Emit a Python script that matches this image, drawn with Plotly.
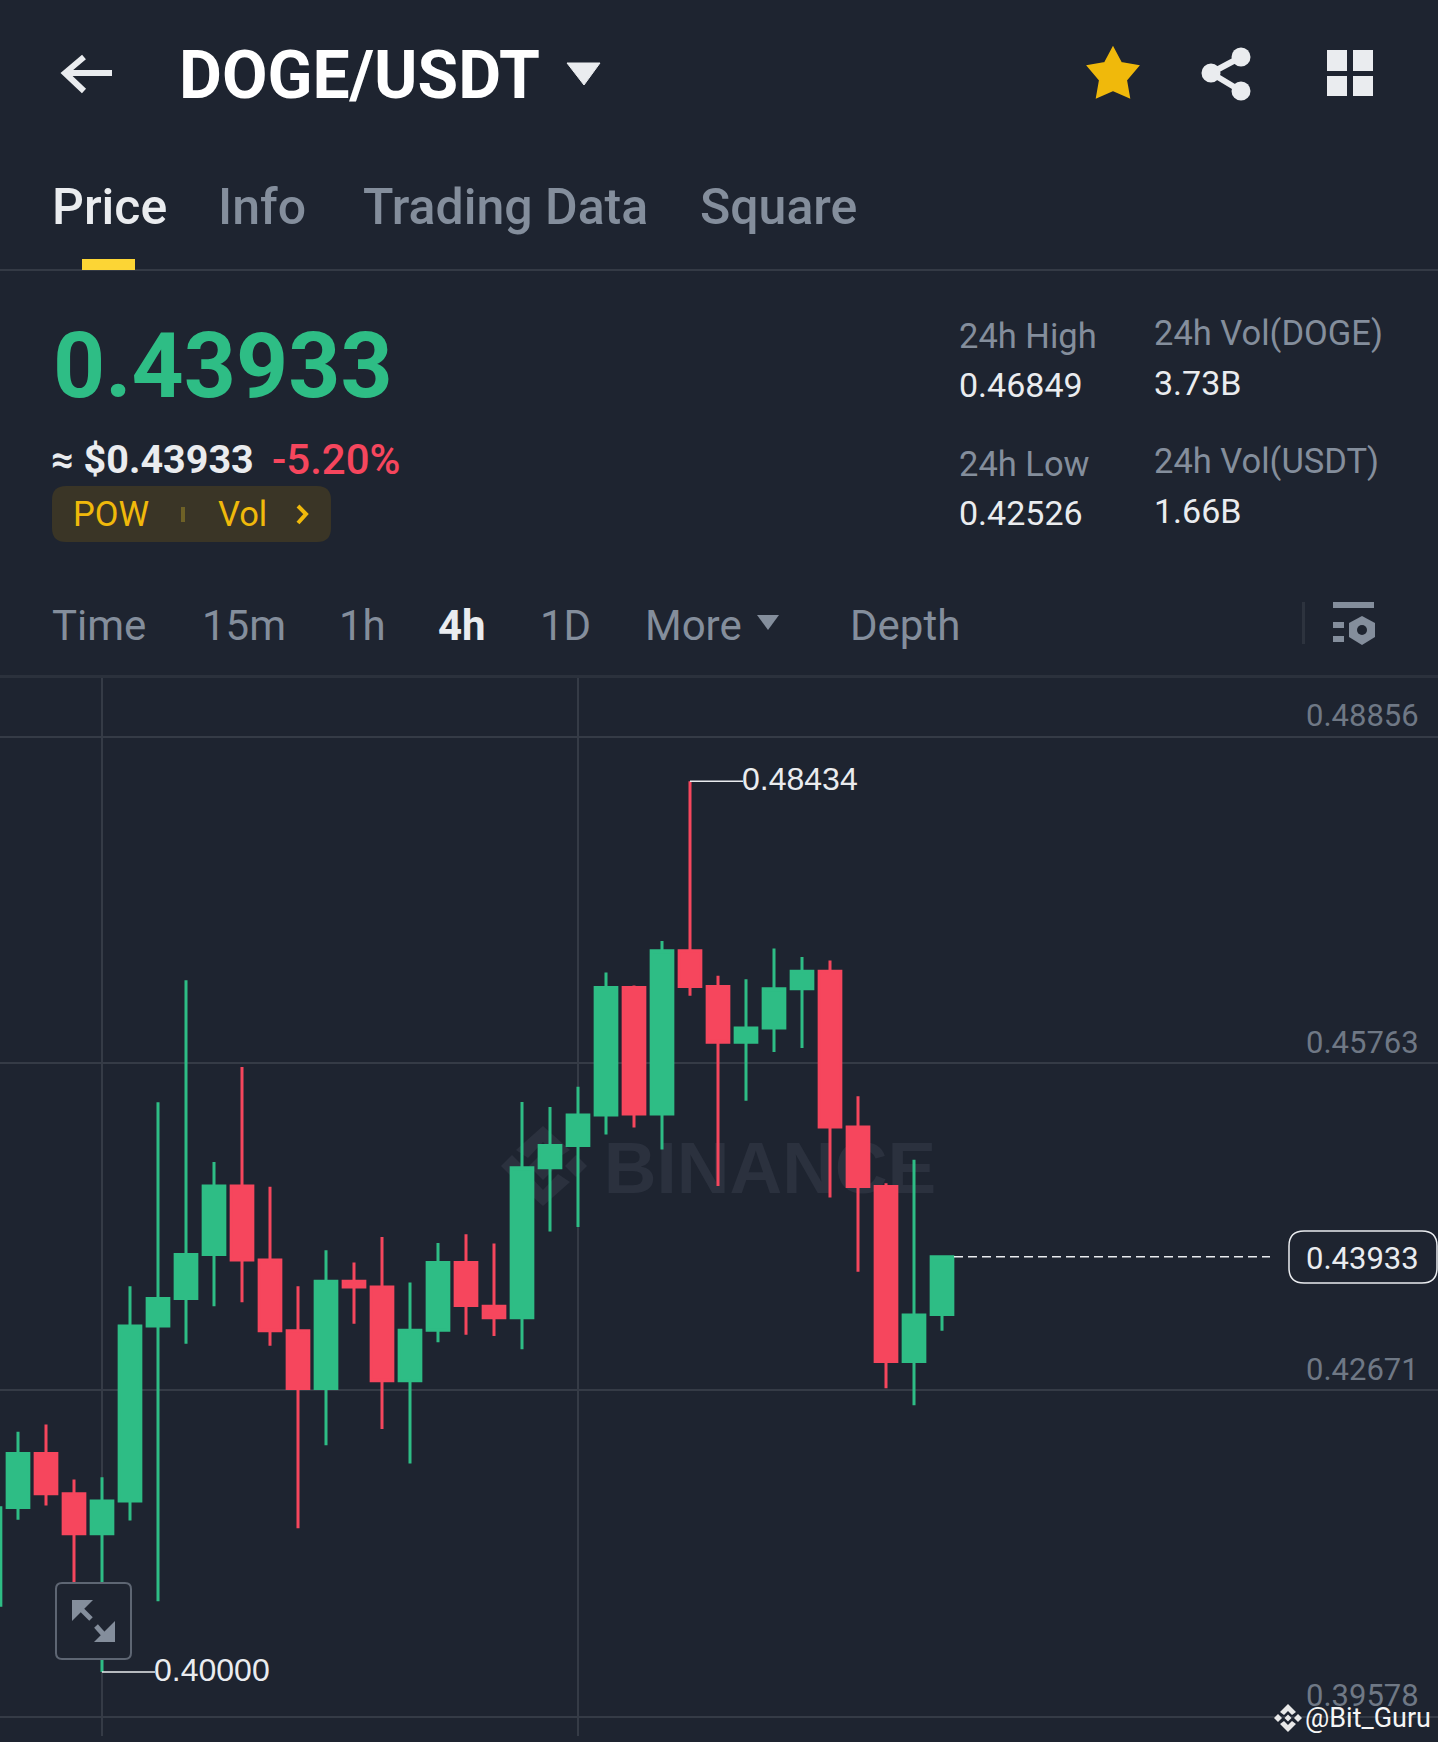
import plotly.graph_objects as go

WIDTH = 1438
HEIGHT = 1742

BG = "#1E2430"
GREEN = "#2EBD85"
RED = "#F6465D"
WHITE = "#EAECEF"
GREY = "#848E9C"
GRID = "#353B46"
YELLOW = "#F0B90B"
MARK = "#2B313E"

# candle data (index 0 is the first full candle on the left)
candle_x = list(range(-1, 34))
opens = [0.40632, 0.41559, 0.42070, 0.41689, 0.41309, 0.41620, 0.43276, 0.43537, 0.43954, 0.44602,
         0.43903, 0.43233, 0.42685, 0.43700, 0.43646, 0.42758, 0.43236, 0.43878, 0.43464, 0.43356,
         0.44776, 0.44987, 0.45275, 0.46483, 0.45283, 0.46830, 0.46492, 0.45964, 0.46099, 0.46471,
         0.46636, 0.45161, 0.44598, 0.42942, 0.43385]
highs = [0.41555, 0.42276, 0.42345, 0.41823, 0.41845, 0.43653, 0.45396, 0.46551, 0.44830, 0.45729,
         0.44595, 0.43653, 0.43993, 0.43878, 0.44120, 0.43689, 0.44062, 0.44146, 0.44059, 0.45397,
         0.45351, 0.45541, 0.46623, 0.46500, 0.46923, 0.48434, 0.46593, 0.46560, 0.46851, 0.46771,
         0.46737, 0.45452, 0.44628, 0.44852, 0.43933]
lows = [0.40632, 0.41443, 0.41577, 0.40704, 0.40000, 0.41436, 0.40671, 0.43109, 0.43464, 0.43501,
        0.43091, 0.41363, 0.42149, 0.43298, 0.42301, 0.41975, 0.43124, 0.43193, 0.43182, 0.43056,
        0.44171, 0.44214, 0.45089, 0.45156, 0.44949, 0.46403, 0.44603, 0.45410, 0.45871, 0.45909,
        0.44493, 0.43791, 0.42688, 0.42527, 0.43233]
closes = [0.41555, 0.42070, 0.41689, 0.41309, 0.41620, 0.43276, 0.43537, 0.43954, 0.44602, 0.43903,
          0.43233, 0.42685, 0.43700, 0.43646, 0.42758, 0.43236, 0.43878, 0.43472, 0.43356, 0.44776,
          0.44987, 0.45275, 0.46483, 0.45283, 0.46830, 0.46492, 0.45964, 0.46099, 0.46471, 0.46636,
          0.45161, 0.44598, 0.42942, 0.43381, 0.43933]

price_ticks = [0.48856, 0.45763, 0.42671, 0.39578]
time_grid = [3, 20]
last_price = 0.43933
high_price = 0.48434
high_index = 24
low_price = 0.40000
low_index = 3

tabs = ["Price", "Info", "Trading Data", "Square"]
intervals = ["Time", "15m", "1h", "4h", "1D", "More", "Depth"]
stat_labels = ["24h High", "24h Low", "24h Vol(DOGE)", "24h Vol(USDT)"]
stat_values = ["0.46849", "0.42526", "3.73B", "1.66B"]

FONT = "Roboto"


# Pixel helpers, the page is laid out as a phone screen
# -------------------------------------------------------------------------------------------------
def fx(x):
    return x / WIDTH


def fy(y):
    return 1 - y / HEIGHT


def price_at(y):
    return 0.42671 + (1390 - y) / 10562


def index_at(x):
    return (x - 18) / 28


def text(x, y, label, size, color, anchor="left", weight=400, family=FONT):
    return dict(x=fx(x), y=fy(y), xref="paper", yref="paper", text=label, showarrow=False,
                xanchor=anchor, yanchor="middle", borderpad=0,
                font=dict(size=size, color=color, family=family, weight=weight))


def poly(points, fill=None, line=None, width=0, close=True, layer="above"):
    path = "M " + " L ".join(f"{fx(x):.5f},{fy(y):.5f}" for x, y in points)
    if close:
        path += " Z"
    return dict(type="path", path=path, xref="paper", yref="paper", layer=layer,
                fillcolor=fill if fill else "rgba(0,0,0,0)",
                line=dict(color=line if line else "rgba(0,0,0,0)", width=width))


def rrect(x0, y0, x1, y1, r, fill=None, line=None, width=0):
    p = (f"M {fx(x0 + r):.5f},{fy(y0):.5f} L {fx(x1 - r):.5f},{fy(y0):.5f} "
         f"Q {fx(x1):.5f},{fy(y0):.5f} {fx(x1):.5f},{fy(y0 + r):.5f} "
         f"L {fx(x1):.5f},{fy(y1 - r):.5f} Q {fx(x1):.5f},{fy(y1):.5f} {fx(x1 - r):.5f},{fy(y1):.5f} "
         f"L {fx(x0 + r):.5f},{fy(y1):.5f} Q {fx(x0):.5f},{fy(y1):.5f} {fx(x0):.5f},{fy(y1 - r):.5f} "
         f"L {fx(x0):.5f},{fy(y0 + r):.5f} Q {fx(x0):.5f},{fy(y0):.5f} {fx(x0 + r):.5f},{fy(y0):.5f} Z")
    return dict(type="path", path=p, xref="paper", yref="paper", layer="above",
                fillcolor=fill if fill else "rgba(0,0,0,0)",
                line=dict(color=line if line else "rgba(0,0,0,0)", width=width))


def rect(x0, y0, x1, y1, fill, layer="above"):
    return dict(type="rect", xref="paper", yref="paper", layer=layer, x0=fx(x0), x1=fx(x1),
                y0=fy(y0), y1=fy(y1), fillcolor=fill, line=dict(width=0))


def circle(cx, cy, r, fill):
    return dict(type="circle", xref="paper", yref="paper", layer="above", x0=fx(cx - r), x1=fx(cx + r),
                y0=fy(cy - r), y1=fy(cy + r), fillcolor=fill, line=dict(width=0))


def diamond(cx, cy, r, fill, layer="above"):
    return poly([(cx, cy - r), (cx + r, cy), (cx, cy + r), (cx - r, cy)], fill=fill, layer=layer)


# Chart
# -------------------------------------------------------------------------------------------------
fig = go.Figure(go.Candlestick(
    x=candle_x, open=opens, high=highs, low=lows, close=closes,
    increasing=dict(line=dict(color=GREEN, width=3), fillcolor=GREEN),
    decreasing=dict(line=dict(color=RED, width=3), fillcolor=RED),
    whiskerwidth=0, hoverinfo="skip", showlegend=False,
))

annotations = []
shapes = []

# header
annotations.append(text(178, 75, "DOGE/USDT", 66, "#FFFFFF", weight=700))
shapes.append(poly([(112, 73), (65, 73)], line=WHITE, width=6, close=False))
shapes.append(poly([(84, 57), (65, 73), (84, 91)], line=WHITE, width=6, close=False))
shapes.append(poly([(567, 63), (600, 63), (584, 85)], fill=WHITE, line=WHITE, width=1))
star = [(1113, 48), (1121, 63), (1138, 66), (1126, 80), (1129, 97), (1113, 90), (1097, 97), (1100, 80),
        (1088, 66), (1105, 63)]
shapes.append(poly(star, fill=YELLOW, line=YELLOW, width=2))
shapes.append(poly([(1241, 57), (1211, 73), (1241, 91)], line=WHITE, width=6, close=False))
shapes.append(circle(1211, 73, 9.5, WHITE))
shapes.append(circle(1241, 57, 9.5, WHITE))
shapes.append(circle(1241, 91, 9.5, WHITE))
shapes.append(rect(1327, 50, 1347, 71, WHITE))
shapes.append(rect(1353, 50, 1373, 71, WHITE))
shapes.append(rect(1327, 76, 1347, 96, WHITE))
shapes.append(rect(1353, 76, 1373, 96, WHITE))

# tabs
for label, x in zip(tabs, [51, 217, 362, 699]):
    annotations.append(text(x, 207, label, 50, WHITE if label == "Price" else GREY,
                            weight=500))
shapes.append(rect(0, 269, WIDTH, 271, "#343A45"))
shapes.append(rect(82, 259, 135, 270, "#FCD535"))

# price block
annotations.append(text(52, 366, "0.43933", 91, GREEN, weight=700))
annotations.append(text(50, 460, "≈ $0.43933", 39.5, WHITE, weight=700))
annotations.append(text(271, 460, "-5.20%", 42, RED, weight=500))
shapes.append(rrect(52, 486, 331, 542, 14, fill="#3A3526"))
annotations.append(text(72, 514, "POW", 34.5, YELLOW))
shapes.append(rect(181, 507, 185, 522, "#6E6126"))
annotations.append(text(217, 514, "Vol", 34.5, YELLOW))
shapes.append(poly([(298, 506), (306, 514), (298, 523)], line=YELLOW, width=4, close=False))

# 24h stats
for label, value, x, y0, y1 in zip(stat_labels, stat_values, [958, 958, 1153, 1153], [336, 464, 333, 461],
                                   [385, 513, 383, 511]):
    annotations.append(text(x, y0, label, 34.5, GREY))
    annotations.append(text(x, y1, value, 34, WHITE))

# interval row
for label, x in zip(intervals, [51, 201, 338, 437, 539, 644, 849]):
    annotations.append(text(x, 625, label, 42, WHITE if label == "4h" else GREY,
                            weight=700 if label == "4h" else 400))
shapes.append(poly([(757, 615), (779, 615), (768, 630)], fill=GREY))
shapes.append(rect(1302, 602, 1305, 644, "#2D333E"))
shapes.append(rect(1333, 602, 1374, 608, GREY))
shapes.append(rect(1333, 622, 1344, 628, GREY))
shapes.append(rect(1333, 636, 1344, 642, GREY))
shapes.append(poly([(1362, 616), (1375, 623), (1375, 637), (1362, 645), (1349, 637), (1349, 623)], fill=GREY))
shapes.append(circle(1362, 630, 5, BG))
shapes.append(rect(0, 675, WIDTH, 678, "#2B313C"))

# watermark under the candles
shapes.append(dict(type="rect", xref="paper", yref="paper", layer="below", x0=fx(600), x1=fx(940),
                   y0=fy(1188), y1=fy(1133), line=dict(width=0), fillcolor="rgba(0,0,0,0)",
                   label=dict(text="BINANCE", textposition="middle center",
                              font=dict(size=73, color=MARK, family="Liberation Sans", weight=700))))
shapes.append(diamond(543, 1166, 14, MARK, layer="below"))
shapes.append(diamond(512, 1166, 11, MARK, layer="below"))
shapes.append(diamond(576, 1166, 11, MARK, layer="below"))
shapes.append(poly([(543, 1126), (570, 1150), (558, 1158), (543, 1142), (528, 1158), (516, 1150)], fill=MARK, layer="below"))
shapes.append(poly([(543, 1206), (570, 1182), (558, 1174), (543, 1190), (528, 1174), (516, 1182)], fill=MARK, layer="below"))

# axis labels sit just above their grid line
for tick in price_ticks:
    annotations.append(dict(x=fx(1420), y=tick, xref="paper", yref="y", text=f"{tick:.5f}", showarrow=False,
                            xanchor="right", yanchor="middle", yshift=21, borderpad=0,
                            font=dict(size=31, color="#6F7885", family=FONT)))

# last price line and box
shapes.append(dict(type="line", xref="x", yref="y", x0=index_at(954), x1=index_at(1270), y0=last_price, y1=last_price,
                   line=dict(color=WHITE, width=1.5, dash="9px,5px")))
shapes.append(rrect(1289, 1231, 1437, 1283, 15, fill=BG, line=WHITE, width=1.5))
annotations.append(dict(x=fx(1420), y=last_price, xref="paper", yref="y", text=f"{last_price:.5f}", showarrow=False,
                        xanchor="right", yanchor="middle", yshift=-2, borderpad=0,
                        font=dict(size=31, color=WHITE, family=FONT)))

# high and low callouts
shapes.append(dict(type="line", xref="x", yref="y", x0=high_index, x1=high_index + 53 / 28, y0=high_price, y1=high_price,
                   line=dict(color=WHITE, width=1.5)))
annotations.append(dict(x=high_index + 51 / 28, y=high_price, xref="x", yref="y", text=f"{high_price:.5f}", showarrow=False,
                        xanchor="left", yanchor="middle", yshift=2, borderpad=0,
                        font=dict(size=32, color=WHITE, family="Liberation Sans")))
shapes.append(dict(type="line", xref="x", yref="y", x0=low_index, x1=low_index + 53 / 28, y0=low_price, y1=low_price,
                   line=dict(color=WHITE, width=1.5)))
annotations.append(dict(x=low_index + 51 / 28, y=low_price, xref="x", yref="y", text=f"{low_price:.5f}", showarrow=False,
                        xanchor="left", yanchor="middle", yshift=2, borderpad=0,
                        font=dict(size=32, color=WHITE, family="Liberation Sans")))

# expand button
shapes.append(rrect(56, 1583, 131, 1659, 6, fill=BG, line="#5E6673", width=2))
shapes.append(poly([(72, 1600), (93, 1600), (72, 1621)], fill=GREY))
shapes.append(poly([(115, 1642), (94, 1642), (115, 1621)], fill=GREY))
shapes.append(poly([(82, 1610), (91, 1619)], line=GREY, width=5, close=False))
shapes.append(poly([(96, 1626), (104, 1635)], line=GREY, width=5, close=False))

# author mark bottom right
annotations.append(text(1304, 1718, "@Bit_Guru", 27, "#F5F5F5"))
shapes.append(poly([(1288, 1704), (1296, 1712), (1292, 1715), (1288, 1711), (1284, 1715), (1280, 1712)], fill="#E8E8E8"))
shapes.append(poly([(1288, 1732), (1296, 1724), (1292, 1721), (1288, 1725), (1284, 1721), (1280, 1724)], fill="#E8E8E8"))
shapes.append(diamond(1278, 1718, 4, "#E8E8E8"))
shapes.append(diamond(1298, 1718, 4, "#E8E8E8"))
shapes.append(diamond(1288, 1718, 3.5, "#E8E8E8"))

fig.update_layout(
    width=WIDTH,
    height=HEIGHT,
    margin=dict(l=0, r=0, t=0, b=0),
    paper_bgcolor=BG,
    plot_bgcolor=BG,
    showlegend=False,
    boxgap=0.225,
    boxgroupgap=0,
    hovermode=False,
    annotations=annotations,
    shapes=shapes,
    xaxis=dict(
        range=[index_at(0), index_at(WIDTH)],
        rangeslider=dict(visible=False),
        tickmode="array",
        tickvals=time_grid,
        showticklabels=False,
        showgrid=True,
        gridcolor=GRID,
        gridwidth=1.5,
        zeroline=False,
        showline=False,
        ticks="",
    ),
    yaxis=dict(
        domain=[fy(1736), fy(678)],
        range=[price_at(1736), price_at(678)],
        tickmode="array",
        tickvals=price_ticks,
        showticklabels=False,
        showgrid=True,
        gridcolor=GRID,
        gridwidth=1.5,
        zeroline=False,
        showline=False,
        ticks="",
    ),
)

fig.write_html(
    "out.html",
    config={"displayModeBar": False},
    post_script="document.body.style.margin='0';document.body.style.overflow='hidden';"
                f"document.body.style.background='{BG}';",
)
